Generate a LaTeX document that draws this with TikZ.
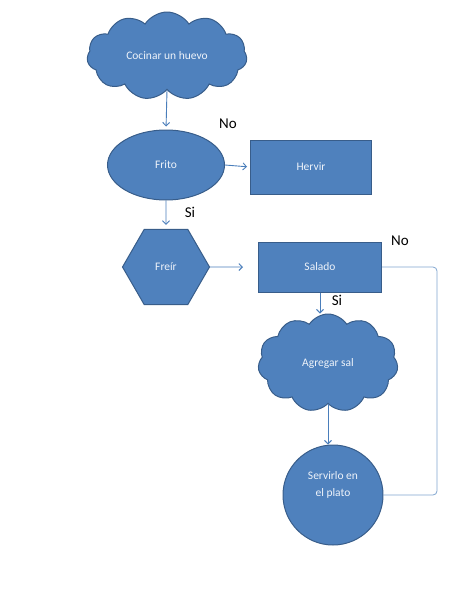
\documentclass[tikz,border=0pt]{standalone}
\usepackage{fontspec}
\setmainfont{Carlito}
\usetikzlibrary{positioning,arrows.meta,shapes.geometric,shapes.symbols}
\definecolor{BoxBlue}{HTML}{4F81BD}
\definecolor{EdgeBlue}{HTML}{385D8A}
\definecolor{LinkBlue}{HTML}{4A7EBB}
\definecolor{LabelWhite}{HTML}{EEF3FA}
\tikzset{
  shapebase/.style={draw=EdgeBlue, line width=1pt, fill=BoxBlue, text=LabelWhite,
                    align=center, inner sep=0pt, font=\fontsize{11.5}{17}\selectfont},
  cloudbox/.style={shapebase, cloud, cloud puffs=11, cloud puff arc=115, aspect=1.8},
  decision/.style={shapebase, ellipse},
  process/.style={shapebase, rectangle},
  prep/.style={shapebase, regular polygon, regular polygon sides=6},
  terminal/.style={shapebase, circle},
  flow/.style={-{Straight Barb[length=3.5pt,width=7pt]}, line width=0.9pt, LinkBlue},
  answer/.style={font=\fontsize{15}{18}\selectfont, text=black},
}

\begin{document}
\begin{tikzpicture}[x=1pt, y=-1pt]
  \useasboundingbox (0,0) rectangle (474,613);
  \node[cloudbox, minimum width=160, minimum height=88] (start) at (167,56) {Cocinar un huevo};
  \node[decision, minimum width=117, minimum height=70] (frito) at (166,165) {Frito};
  \node[process, minimum width=121, minimum height=54] (hervir) at (311,167) {Hervir};
  \node[prep, minimum size=87] (freir) at (166,267) {Freír};
  \node[process, minimum width=123, minimum height=50] (salado) at (320,267) {Salado};
  \node[cloudbox, minimum width=140, minimum height=98] (sal) at (328,363) {Agregar sal};
  \node[terminal, minimum size=100] (servir) at (333,495) {Servirlo en\\el plato\\[4pt]};
  % answers
  \node[answer] (no1) at (228,124) {No};
  \node[answer] (si1) at (190,212) {Si};
  \node[answer] (no2) at (400,241) {No};
  \node[answer] (si2) at (337,300) {Si};
  % connectors
  \coordinate (back) at (437,0);
  \draw[flow, shorten >=3pt] (start.south) -- (frito.north);
  \draw[flow, shorten >=3pt] (frito.east) -- (hervir.west);
  \draw[flow, shorten >=4pt] (frito.south) -- (freir.north);
  \draw[flow, shorten >=15pt] (freir.east) -- (salado.west);
  \draw[flow] (salado.south) -- (salado.south |- sal.north);
  \draw[flow] (sal.south) -- (sal.south |- servir.north);
  \draw[LinkBlue!70, line width=0.8pt, rounded corners=4pt]
    (salado.east) -| (servir.east -| back) -- (servir.east);
\end{tikzpicture}
\end{document}
